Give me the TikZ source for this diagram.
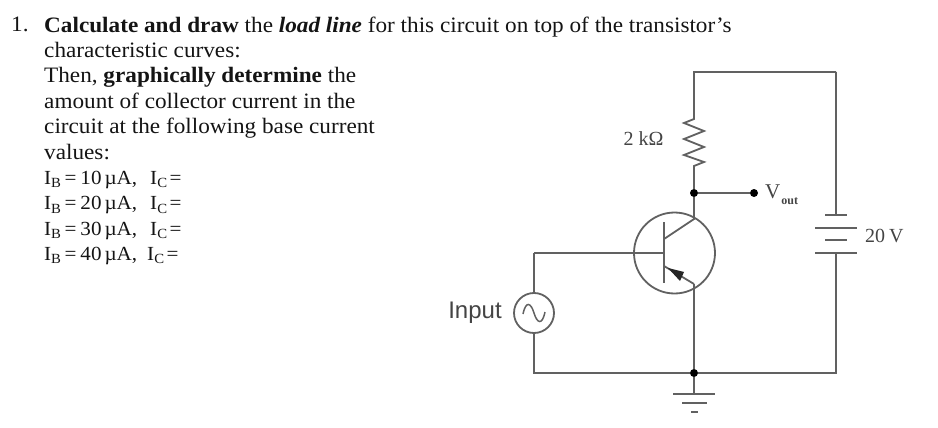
\documentclass[tikz,border=0pt]{standalone}
\usepackage{fontspec}
\setmainfont[FakeStretch=1.055]{Liberation Serif}
\newfontfamily\labelfont{Liberation Serif}
\newfontfamily\inputfont{Liberation Sans}
\usetikzlibrary{arrows,positioning}
\definecolor{wirecol}{gray}{0.38}
\definecolor{textcol}{gray}{0.08}
\newcommand{\subl}[1]{\textsubscript{#1}}
\newcommand{\ibline}[2]{{\fontsize{20}{25.4}\selectfont I\subl{B}\hspace{3pt}=\hspace{4pt}#1\hspace{3pt}µA,\hspace{#2}I\subl{C}\hspace{2pt}=}}
\tikzset{
  wire/.style={draw=wirecol,line width=1.8pt},
  dot/.style={circle,fill=black,inner sep=0pt,minimum size=8pt},
  qtext/.style={inner sep=0pt,anchor=north west,align=left,text=textcol,font=\fontsize{22}{25.4}\selectfont},
  vlabel/.style={inner sep=0pt,text=wirecol!70!black,font=\labelfont\fontsize{20}{22}\selectfont},
}
\begin{document}
\begin{tikzpicture}[x=1pt,y=-1pt]
        \useasboundingbox (0,0) rectangle (938,428);

        \node (num) [qtext] at (11,16.5) {1.};
        \node (question) [qtext] at (44,16.5) {\textbf{Calculate and draw} the \textbf{\textit{load line}} for this circuit on top of the transistor’s\\
          characteristic curves:\\
          Then, \textbf{graphically determine} the\\
          amount of collector current in the\\
          circuit at the following base current\\
          values:\\
          \ibline{10}{13pt}\\
          \ibline{20}{13pt}\\
          \ibline{30}{13pt}\\
          \ibline{40}{10pt}};

        % points of the circuit
        \coordinate (topl) at (694,72);
        \coordinate (topr) at (836,72);
        \coordinate (rtop) at (694,119);
        \coordinate (rbot) at (694,166);
        \coordinate (botl) at (534,373);
        \coordinate (botr) at (836,373);
        \coordinate (basel) at (534,253);
        \coordinate (bar) at (664,253);
        \coordinate (cin) at (664,239);
        \coordinate (cout) at (694,219);
        \coordinate (ein) at (664,266);
        \coordinate (eout) at (694,284);
        \coordinate (gnd) at (694,394);

        \node (out) [dot] at (694,193) {};
        \node (vout) [dot] at (754,193) {};
        \node (earth) [dot] at (694,373) {};
        \node (qone) [circle,wire,minimum size=81pt,inner sep=0pt] at (674.5,253) {};
        \node (src) [circle,wire,minimum size=40pt,inner sep=0pt] at (534,313) {};

        % resistor
        \draw [wire] (topr) -- (topl) -- (rtop) -- ++(-10,4) -- ++(20,8) -- ++(-20,8) -- ++(20,8) -- ++(-20,8) -- ++(20,7) -- (rbot) -- (out) -- (cout) -- (cin);
        \draw [wire] (out) -- (vout);
        \draw [wire] (664,222) -- (664,283);
        \draw [wire] (basel) -- (bar);
        \draw [wire] (eout) -- (ein);
        \fill [black!85] (668,268) -- (684,272) -- (680,281) -- cycle;
        \draw [wire] (eout) -- (earth);
        \draw [wire] (basel) -- (src);
        \draw [wire] (src) -- (botl) -- (earth);
        \draw [wire] (earth) -- (botr) -- (836,253);
        \draw [wire] (topr) -- (836,215);

        % sine in the source
        \draw [wire,line width=1.5pt] (523,314) .. controls (526,300) and (531,303) .. (534,313) .. controls (537,323) and (542,326) .. (545,312);

        % battery
        \draw [wire] (825,215) -- (847,215);
        \draw [wire] (815,228) -- (857,228);
        \draw [wire] (825,240) -- (847,240);
        \draw [wire] (815,253) -- (857,253);

        % ground
        \draw [wire] (earth) -- (gnd);
        \draw [wire] (673,394) -- (715,394);
        \draw [wire] (682,403) -- (707,403);
        \draw [wire] (691,412) -- (698,412);

        \node (rlabel) [vlabel] at (643.5,139) {2\hspace{5pt}kΩ};
        \node (vlabel) [vlabel,anchor=west,font=\labelfont\fontsize{21}{22}\selectfont] at (765,195) {V\hspace{1pt}\raisebox{-6pt}{\fontsize{12}{12}\selectfont\textbf{out}}};
        \node (batt) [vlabel,anchor=west] at (865,236) {20\hspace{4pt}V};
        \node (inlabel) [vlabel,font=\inputfont\fontsize{24}{26}\selectfont] at (475,313) {Input};
      \end{tikzpicture}
\end{document}
